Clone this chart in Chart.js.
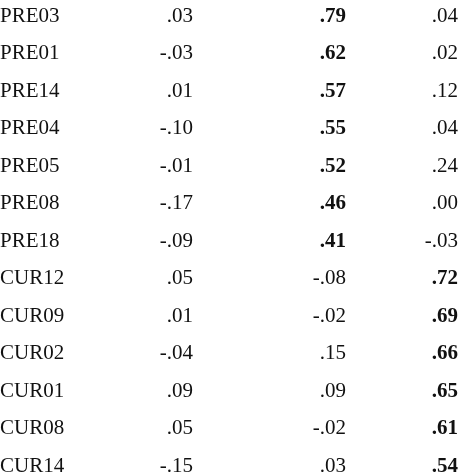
<!DOCTYPE html>
<html><head><meta charset="utf-8">
<script src="https://cdn.jsdelivr.net/npm/chart.js@4"></script>
<style>html,body{margin:0;padding:0;background:#fff}#w{width:474px;height:474px}</style>
</head><body><div id="w"><canvas id="c"></canvas></div>
<script>
const items = ['PRE03','PRE01','PRE14','PRE04','PRE05','PRE08','PRE18','CUR12','CUR09','CUR02','CUR01','CUR08','CUR14'];
const factor1 = ['.03','-.03','.01','-.10','-.01','-.17','-.09','.05','.01','-.04','.09','.05','-.15'];
const factor2 = ['.79','.62','.57','.55','.52','.46','.41','-.08','-.02','.15','.09','-.02','.03'];
const factor3 = ['.04','.02','.12','.04','.24','.00','-.03','.72','.69','.66','.65','.61','.54'];
const bold2 = [1,1,1,1,1,1,1,0,0,0,0,0,0];
const bold3 = [0,0,0,0,0,0,0,1,1,1,1,1,1];
const colX = [0, 1.93, 3.46, 4.58];

const points = items.map((_, i) => ({x: 0, y: i}));
const FONT = '21px "Liberation Serif", serif';
const tablePlugin = {
  id: 'table',
  afterDraw(chart) {
    const ctx = chart.ctx, xs = chart.scales.x, ys = chart.scales.y;
    ctx.save();
    ctx.fillStyle = '#111';
    ctx.textBaseline = 'middle';
    items.forEach((name, i) => {
      const y = ys.getPixelForValue(i);
      ctx.font = FONT;
      ctx.textAlign = 'left';
      ctx.fillText(name, xs.getPixelForValue(colX[0]), y);
      ctx.textAlign = 'right';
      ctx.fillText(factor1[i], xs.getPixelForValue(colX[1]), y);
      ctx.font = (bold2[i] ? 'bold ' : '') + FONT;
      ctx.fillText(factor2[i], xs.getPixelForValue(colX[2]), y);
      ctx.font = (bold3[i] ? 'bold ' : '') + FONT;
      ctx.fillText(factor3[i], xs.getPixelForValue(colX[3]), y);
    });
    ctx.restore();
  }
};
new Chart(document.getElementById('c'), {
  type: 'scatter',
  data: {datasets: [{data: points, pointRadius: 0, showLine: false}]},
  options: {
    responsive: true, maintainAspectRatio: false, animation: false,
    layout: {padding: 0},
    plugins: {legend: {display: false}, tooltip: {enabled: false}},
    scales: {
      x: {type: 'linear', display: false, min: 0, max: 4.74},
      y: {type: 'linear', display: false, reverse: true, min: -0.43, max: 12.2}
    }
  },
  plugins: [tablePlugin]
});
</script></body></html>
